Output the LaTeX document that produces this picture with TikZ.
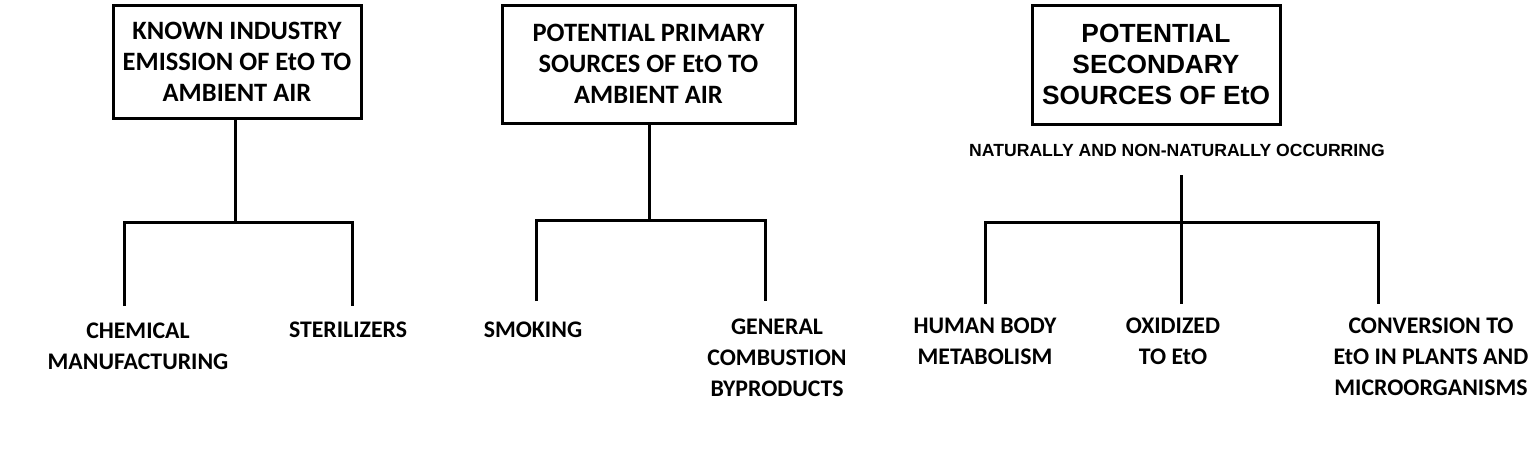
\documentclass[tikz,border=0pt]{standalone}
\usepackage{fontspec}
\setmainfont{Carlito}
\newfontfamily\arialf{Liberation Sans}
\begin{document}
\begin{tikzpicture}[x=1pt,y=-1pt,line width=3pt,
  box/.style={draw,rectangle,align=center,font=\fontsize{26.5}{31}\selectfont\bfseries},
  lab/.style={align=center,font=\fontsize{23.8}{31}\selectfont\bfseries},
  every path/.style={line cap=butt}]
\useasboundingbox (0,0) rectangle (1536,451);
% box 1
\node[box,minimum width=248pt,minimum height=113pt] (b1) at (237,61.5) {KNOWN INDUSTRY\\EMISSION OF EtO TO\\AMBIENT AIR};
\coordinate (j1) at (235,222);
\coordinate (l1) at (124,222); \coordinate (r1) at (352,222);
\coordinate (l1e) at (124,306); \coordinate (r1e) at (352,306);
\draw (b1.south -| j1) -- (j1);
\draw (l1e) -- (l1) -- (r1) -- (r1e);
\node[lab] (t11) at (138,346) {CHEMICAL\\MANUFACTURING};
\node[lab] (t12) at (348,330) {STERILIZERS};
% box 2
\node[box,minimum width=293pt,minimum height=118pt] (b2) at (648.5,64) {POTENTIAL PRIMARY\\SOURCES OF EtO TO\\AMBIENT AIR};
\coordinate (j2) at (649,220);
\coordinate (l2) at (536,220); \coordinate (r2) at (765,220);
\coordinate (l2e) at (536,301); \coordinate (r2e) at (765,301);
\draw (b2.south -| j2) -- (j2);
\draw (l2e) -- (l2) -- (r2) -- (r2e);
\node[lab] (t21) at (533,330) {SMOKING};
\node[lab] (t22) at (777,358) {GENERAL\\COMBUSTION\\BYPRODUCTS};
% box 3
\node[box,font=\arialf\fontsize{26.3}{31}\selectfont\bfseries,minimum width=248pt,minimum height=119pt] (b3) at (1156,64.5) {POTENTIAL\\SECONDARY\\SOURCES OF EtO};
\node[font=\arialf\fontsize{17.6}{20}\selectfont\bfseries] (sub) at (1177,150) {NATURALLY AND NON-NATURALLY OCCURRING};
\coordinate (s3) at (1181,175);
\coordinate (j3) at (1181,222);
\coordinate (l3) at (985,222); \coordinate (r3) at (1378,222);
\coordinate (l3e) at (985,304); \coordinate (m3e) at (1181,304); \coordinate (r3e) at (1378,304);
\draw (s3) -- (j3) -- (m3e);
\draw (l3e) -- (l3) -- (r3) -- (r3e);
\node[lab] (t31) at (985,341) {HUMAN BODY\\METABOLISM};
\node[lab] (t32) at (1173,341) {OXIDIZED\\TO EtO};
\node[lab] (t33) at (1431,357) {CONVERSION TO\\EtO IN PLANTS AND\\MICROORGANISMS};
\end{tikzpicture}
\end{document}
